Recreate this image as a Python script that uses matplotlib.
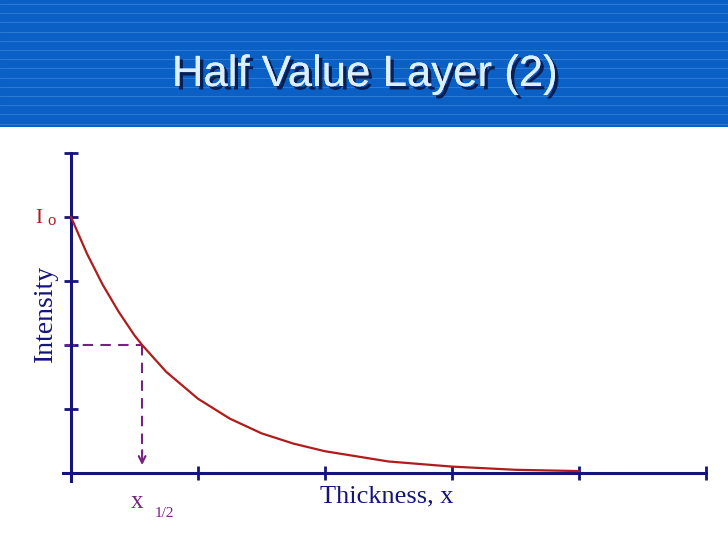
import matplotlib.pyplot as plt
from matplotlib import patheffects

# values (thickness in tick units, intensity in tick units)
thickness = [0.0, 0.125, 0.25, 0.375, 0.5, 0.56, 0.75, 1.0, 1.25, 1.5,
             1.75, 2.0, 2.5, 3.0, 3.5, 4.0]
intensity = [4.0, 3.43, 2.94, 2.52, 2.15, 2.0, 1.58, 1.16, 0.85, 0.62,
             0.46, 0.34, 0.18, 0.10, 0.05, 0.03]
x_half = 0.56
i_half = 2.0
x_ticks = [0, 1, 2, 3, 4, 5]
y_ticks = [0, 1, 2, 3, 4, 5]

W, H = 728, 546
NAVY = "#14147a"
RED = "#b01c1c"
PURPLE = "#74237f"

fig = plt.figure(figsize=(W / 100, H / 100), dpi=100)
fig.patch.set_facecolor("white")

# slide header band
hdr_h = 127
ax_h = fig.add_axes([0, 1 - hdr_h / H, 1, hdr_h / H])
ax_h.set_xlim(0, W)
ax_h.set_ylim(hdr_h, 0)
ax_h.axis("off")
ax_h.axhspan(0, hdr_h, color="#0b60c6")
y = 4.0
while y < hdr_h:
    ax_h.axhline(y, color="#4d93e3", lw=0.6, alpha=0.6)
    y += 9.2

fig.text(365 / W, 1 - 86 / H, "Half Value Layer (2)", ha="center", va="baseline",
         fontsize=31.5, family="Liberation Sans", color="#dcefff",
         path_effects=[patheffects.withSimplePatchShadow(offset=(2.5, -2.5),
                                                         shadow_rgbFace="#08184a",
                                                         alpha=0.9),
                       patheffects.Normal()])

# chart axes: pixel = 71 + 127*x, pixel = 473 - 64*y
left_px, right_px, top_px, bot_px = 20, 725, 140, 540
ax = fig.add_axes([left_px / W, 1 - bot_px / H, (right_px - left_px) / W,
                   (bot_px - top_px) / H])
ax.set_xlim((left_px - 71) / 127, (right_px - 71) / 127)
ax.set_ylim((473 - bot_px) / 64, (473 - top_px) / 64)
ax.patch.set_alpha(0)

for side in ("top", "right"):
    ax.spines[side].set_visible(False)
ax.spines["left"].set_position(("data", 0))
ax.spines["bottom"].set_position(("data", 0))
ax.spines["left"].set_bounds(-0.125, 5)
ax.spines["bottom"].set_bounds(-0.063, 5)
for side in ("left", "bottom"):
    ax.spines[side].set_color(NAVY)
    ax.spines[side].set_linewidth(2.2)
ax.set_xticks(x_ticks)
ax.set_yticks(y_ticks)
ax.tick_params(direction="inout", length=10, width=2, color=NAVY,
               labelbottom=False, labelleft=False)

ax.plot(thickness, intensity, color=RED, lw=1.6, zorder=3)

# half value guides
ax.plot([-0.05, x_half], [i_half, i_half], color=PURPLE, lw=1.5,
        linestyle=(0, (5, 3.5)), zorder=2)
ax.plot([x_half, x_half], [i_half, 0.3], color=PURPLE, lw=1.5,
        linestyle=(0, (5, 3.5)), zorder=2)
ax.annotate("", xy=(x_half, 0.08), xytext=(x_half, 0.4),
            arrowprops=dict(arrowstyle="->", color=PURPLE, lw=1.5,
                            mutation_scale=12))

serif = "Liberation Serif"
ax.text((45 - 71) / 127, (473 - 313) / 64, "Intensity", rotation=90,
        ha="center", va="center", fontsize=20, family=serif, color=NAVY)
ax.text((320 - 71) / 127, (473 - 502) / 64, "Thickness, x", ha="left",
        va="baseline", fontsize=19, family=serif, color=NAVY)
ax.text((35 - 71) / 127, (473 - 223) / 64, "I", ha="left", va="baseline",
        fontsize=15, family=serif, color=RED)
ax.text((47 - 71) / 127, (473 - 225) / 64, "o", ha="left", va="baseline",
        fontsize=12, family=serif, color=RED)
ax.text((131 - 71) / 127, (473 - 508) / 64, "x", ha="left", va="baseline",
        fontsize=18, family=serif, color=PURPLE)
ax.text((155 - 71) / 127, (473 - 517) / 64, "1/2", ha="left", va="baseline",
        fontsize=11, family=serif, color=PURPLE)

fig.savefig("out.png", dpi=100)
